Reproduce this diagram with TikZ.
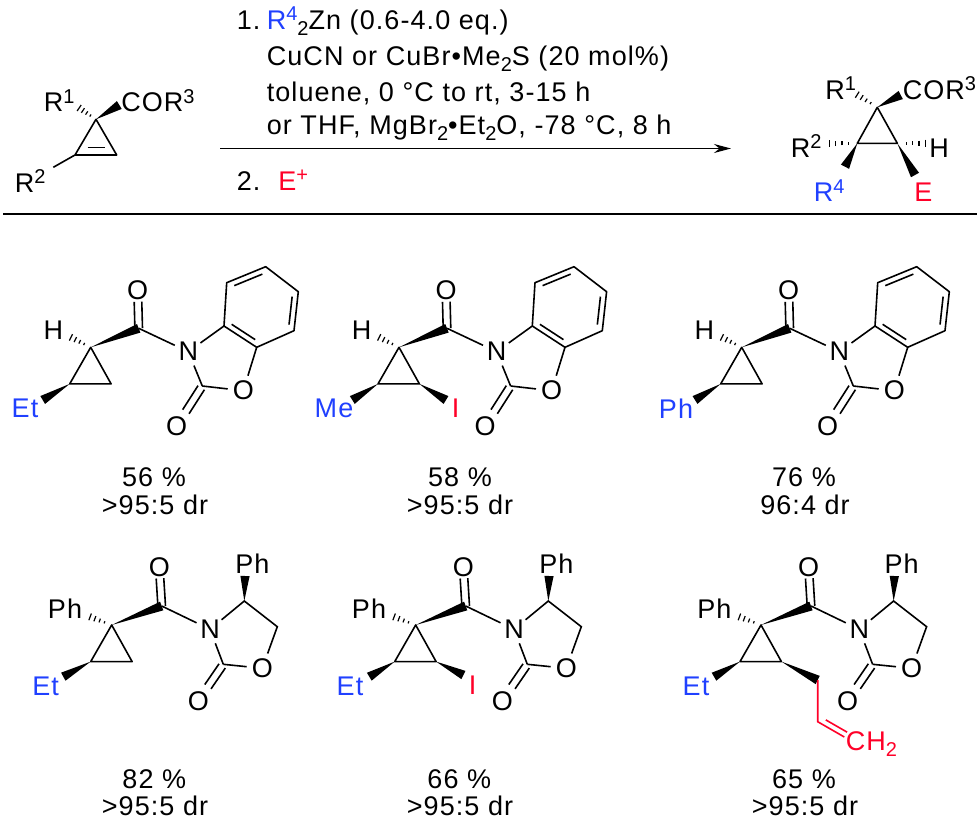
\documentclass[tikz,border=0pt]{standalone}
\usepackage{fontspec}
\setmainfont[LetterSpace=4]{Liberation Sans}
\usetikzlibrary{calc,arrows.meta}
\definecolor{rblue}{RGB}{32,64,255}
\definecolor{rred}{RGB}{255,0,40}
\newcommand\sps[1]{\raisebox{8.5pt}{\fontsize{20}{20}\selectfont #1}}
\newcommand\sbs[1]{\raisebox{-6pt}{\fontsize{20}{20}\selectfont #1}}
% bond helpers
\newcommand\wedgeb[2]{\fill ($(#1)$) -- ($(#2)!4.6pt!90:(#1)$) -- ($(#2)!4.6pt!-90:(#1)$) -- cycle;}
\newcommand\hashb[2]{\foreach \tt/\ww in {.3/1.2pt,.5/2pt,.7/2.8pt,.9/3.6pt}{\draw[line width=1.2pt] ($(#1)!\tt!(#2)!\ww!90:(#2)$) -- ($(#1)!\tt!(#2)!\ww!-90:(#2)$);}}
\newcommand\innerb[3][.14]{\draw ($(#2)!#1!(#3)!5.6pt!-90:(#3)$) -- ($(#3)!#1!(#2)!5.6pt!90:(#2)$);}
\newcommand\dblb[4]{\draw[shorten <=#3,shorten >=#4] ($(#1)!3.8pt!90:(#2)$) -- ($(#2)!3.8pt!-90:(#1)$); \draw[shorten <=#3,shorten >=#4] ($(#1)!3.8pt!-90:(#2)$) -- ($(#2)!3.8pt!90:(#1)$);}
% shared cyclopropane
\newcommand\cprop{\coordinate (C1) at (0,0);\coordinate (C2) at (-21,36.6);\coordinate (C3) at (20.4,36.6);
 \draw[line join=round] (C1) -- (C2) -- (C3) -- cycle;}
% benzoxazolone auxiliary
\newcommand\bzcore{\cprop
 \coordinate (CO) at (48,-19);\node[lab] (Ot) at (47,-56.6) {O};
 \node[lab] (H) at (-37.4,-16.6) {H};\coordinate (Hh) at (-22,-11);
 \node[atom] (N) at (97.6,4.4) {N};\coordinate (Cx) at (111.6,38.7);
 \node[lab] (Oe) at (86,78.7) {O};\node[atom] (Or) at (152.6,43.4) {O};
 \coordinate (C3a) at (133.3,-21.3);\coordinate (C7a) at (166,0);
 \coordinate (B1) at (136,-64.6);\coordinate (B2) at (175,-80.6);
 \coordinate (B3) at (207.6,-55.6);\coordinate (B4) at (203.3,-16.6);
 \wedgeb{C1}{CO}\hashb{C1}{Hh}
 \dblb{CO}{Ot}{0pt}{11pt}\dblb{Cx}{Oe}{2pt}{17pt}
 \draw (CO) -- (N); \draw (N) -- (Cx); \draw (Cx) -- (Or); \draw (Or) -- (C7a); \draw (N) -- (C3a);
 \draw[line join=round] (C3a) -- (B1) -- (B2) -- (B3) -- (B4) -- (C7a) -- cycle;
 \innerb{C7a}{C3a}\innerb{B1}{B2}\innerb{B3}{B4}}
% phenyl oxazolidinone auxiliary
\newcommand\oxcore{\cprop
 \coordinate (CO) at (50,-19);\node[lab] (Ot) at (47.6,-57.7) {O};
 \node[lab] (PL) at (-46.7,-16.7) {Ph};\coordinate (Pp) at (-24,-9);
 \node[atom] (N) at (98.3,4.3) {N};\coordinate (C4) at (132.6,-24);\coordinate (C5) at (165.6,1.7);
 \node[atom] (Or) at (150.6,43.3) {O};\coordinate (Cx) at (111.6,39.3);\node[lab] (Oe) at (86.6,75.7) {O};
 \node[lab] (PT) at (140.6,-61.7) {Ph};\coordinate (Pw) at (133.3,-49);
 \wedgeb{C1}{CO}\hashb{C1}{Pp}\wedgeb{C4}{Pw}
 \dblb{CO}{Ot}{0pt}{11pt}\dblb{Cx}{Oe}{2pt}{17pt}
 \draw (CO) -- (N); \draw (N) -- (C4) -- (C5) -- (Or); \draw (Or) -- (Cx); \draw (Cx) -- (N);}
\begin{document}
\begin{tikzpicture}[x=1pt,y=-1pt,line width=1.6pt,
 every node/.style={font=\fontsize{27}{30}\selectfont,inner sep=0pt},
 lab/.style={},atom/.style={circle,inner sep=0.5pt},
 txt/.style={anchor=base west},yld/.style={anchor=base}]
\useasboundingbox (0,0) rectangle (980,819);
\fill[white] (0,0) rectangle (980,819);
% reactant
\begin{scope}[name prefix=s-]
\coordinate (C1) at (96,119.3);\coordinate (C2) at (75,155);\coordinate (C3) at (116.7,155);
\coordinate (W) at (119.3,105);\coordinate (Hh) at (77.3,106.7);\coordinate (Rb) at (53.3,167.3);
\draw[line join=round] (C1) -- (C2) -- (C3) -- cycle;
\draw ($(C2)!.3!(C3)+(0,-7.5)$) -- ($(C2)!.72!(C3)+(0,-7.5)$);
\wedgeb{C1}{W}\hashb{C1}{Hh}\draw (C2) -- (Rb);
\node[txt] (R1) at (43,111.7) {R\sps{1}};
\node[txt] (COR) at (120.5,111.7) {COR\sps{3}};
\node[txt] (R2) at (14,192) {R\sps{2}};
\end{scope}
% conditions
\node[txt] (L1a) at (236,29.3) {1.};
\node[txt] (L1) at (266,29.3) {\textcolor{rblue}{R\sps{4}}\sbs{2}Zn (0.6-4.0 eq.)};
\node[txt] (L2) at (266,65) {CuCN or CuBr•Me\sbs{2}S (20 mol\%)};
\node[txt] (L3) at (266,101.7) {toluene, 0 °C to rt, 3-15 h};
\node[txt] (L4) at (266,134.3) {or THF, MgBr\sbs{2}•Et\sbs{2}O, -78 °C, 8 h};
\node[txt] (L5a) at (236,190) {2.};
\node[txt] (L5) at (277.5,190) {\textcolor{rred}{E\sps{+}}};
\coordinate (AL) at (220,148.5);\coordinate (AR) at (731,148.5);
\draw[-{Stealth[length=17pt,width=9pt]}] (AL) -- (AR);
\coordinate (HL) at (3,214);\coordinate (HR) at (977,214);
\draw[line width=2pt] (HL) -- (HR);
% product
\begin{scope}[name prefix=p-]
\coordinate (C1) at (877.3,107.3);\coordinate (C2) at (857.3,143.3);\coordinate (C3) at (897.3,143.3);
\draw[line join=round] (C1) -- (C2) -- (C3) -- cycle;
\coordinate (a) at (855,93.3);\coordinate (b) at (900.7,95);\coordinate (c) at (826.7,143.3);
\coordinate (d) at (928.3,143.3);\coordinate (e) at (845,166.7);\coordinate (f) at (915,175);
\hashb{C1}{a}\wedgeb{C1}{b}\hashb{C2}{c}\hashb{C3}{d}\wedgeb{C2}{e}\wedgeb{C3}{f}
\node[txt] (R1) at (824.5,99.3) {R\sps{1}};
\node[txt] (COR) at (902,99.3) {COR\sps{3}};
\node[txt] (R2) at (790,157.3) {R\sps{2}};
\node[txt] (H) at (928.5,157.3) {H};
\node[txt,text=rblue] (R4) at (813,201.7) {R\sps{4}};
\node[txt,text=rred] (E) at (913.5,201.7) {E};
\end{scope}
% row 1
\begin{scope}[shift={(90.7,347.3)},name prefix=a-]
\bzcore
\coordinate (t) at (-48,52.7);\wedgeb{C2}{t}
\node[lab,text=rblue] (Et) at (-65.7,61) {Et};
\end{scope}
\begin{scope}[shift={(399,347.3)},name prefix=b-]
\bzcore
\coordinate (t) at (-46.7,52.7);\wedgeb{C2}{t}
\coordinate (u) at (47,52.7);\wedgeb{C3}{u}
\node[lab,text=rblue] (Me) at (-65,60.7) {Me};
\node[lab,text=rred] (I) at (56.7,61) {I};
\end{scope}
\begin{scope}[shift={(741.7,347.3)},name prefix=c-]
\bzcore
\coordinate (t) at (-46.7,52.7);\wedgeb{C2}{t}
\node[lab,text=rblue] (Ph) at (-65.7,61) {Ph};
\end{scope}
% row 2
\begin{scope}[shift={(111.7,625)},name prefix=d-]
\oxcore
\coordinate (t) at (-48.4,51.7);\wedgeb{C2}{t}
\node[lab,text=rblue] (Et) at (-66,61.7) {Et};
\end{scope}
\begin{scope}[shift={(415.7,625)},name prefix=e-]
\oxcore
\coordinate (t) at (-46.4,51.7);\wedgeb{C2}{t}
\coordinate (u) at (47.7,50);\wedgeb{C3}{u}
\node[lab,text=rblue] (Et) at (-65.7,61) {Et};
\node[lab,text=rred] (I) at (57,60) {I};
\end{scope}
\begin{scope}[shift={(761,625)},name prefix=f-]
\oxcore
\coordinate (t) at (-47,51.7);\wedgeb{C2}{t}
\coordinate (u) at (56.7,55);\wedgeb{C3}{u}
\node[lab,text=rblue] (Et) at (-65,61) {Et};
\coordinate (v) at (56.7,96.7);\coordinate (w) at (83.3,112);
\draw[rred] (u) -- (v) -- (w);
\draw[rred] ($(v)!.2!(w)!5.6pt!90:(w)$) -- ($(w)!0!(v)!5.6pt!-90:(v)$);
\node[txt,text=rred] (CH) at (84,125.7) {CH\sbs{2}};
\end{scope}
% yields
\node[yld] (y1) at (154,486.7) {56 \%};\node[yld] (d1) at (155,514) {>95:5 dr};
\node[yld] (y2) at (460,486.7) {58 \%};\node[yld] (d2) at (460,514) {>95:5 dr};
\node[yld] (y3) at (804,486.7) {76 \%};\node[yld] (d3) at (805,514) {96:4 dr};
\node[yld] (y4) at (154.3,788.3) {82 \%};\node[yld] (d4) at (155,815) {>95:5 dr};
\node[yld] (y5) at (459.3,788.3) {66 \%};\node[yld] (d5) at (460,815) {>95:5 dr};
\node[yld] (y6) at (804,788.3) {65 \%};\node[yld] (d6) at (805,815) {>95:5 dr};
\end{tikzpicture}
\end{document}
